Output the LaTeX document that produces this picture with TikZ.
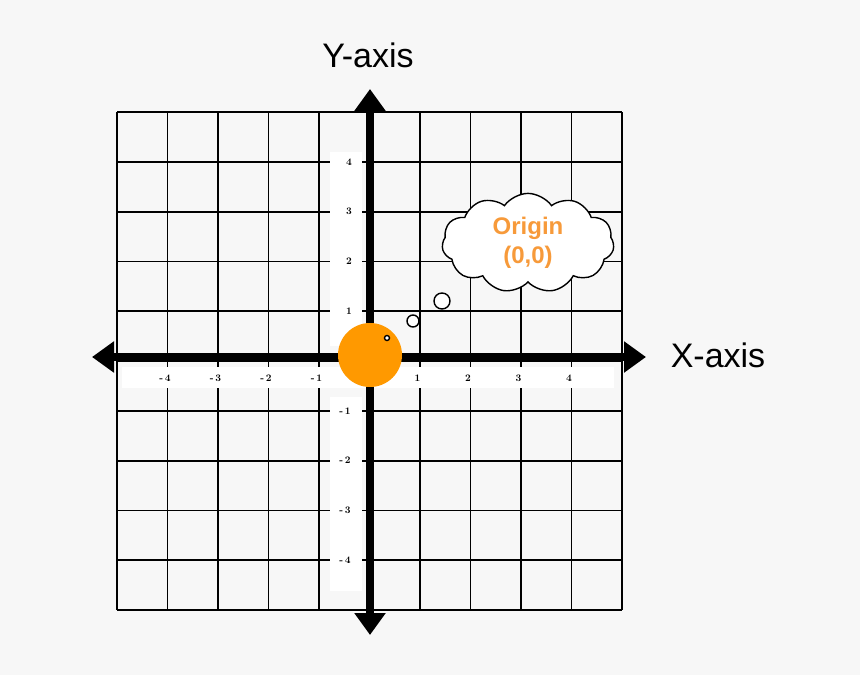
\documentclass[tikz,border=0pt]{standalone}
\usepackage{fontspec}
\setsansfont{Liberation Sans}
\usetikzlibrary{shapes.symbols,arrows.meta}
\definecolor{bg}{HTML}{F7F7F7}
\definecolor{org}{HTML}{FF9900}
\definecolor{txtorg}{HTML}{F79A3A}
\tikzset{grid line/.style={black,line width=1.8pt},
 axis/.style={line width=8pt,-{Triangle[length=22pt,width=30pt]}},
 tick/.style={font=\fontsize{10}{10}\selectfont\bfseries},
 bubble/.style={circle,draw,line width=1.4pt,fill=white,inner sep=0pt}}
\begin{document}
\begin{tikzpicture}[x=1pt,y=-1pt]
\fill[bg] (0,0) rectangle (860,675);
\useasboundingbox (0,0) rectangle (860,675);
\foreach \i in {0,...,10}{
  \draw[grid line] ({117+50.5*\i},112) -- ({117+50.5*\i},610);
  \draw[grid line] (117,{112+49.8*\i}) -- (622,{112+49.8*\i});}
\fill[white] (330,152) rectangle (362,346);
\fill[white] (330,397) rectangle (362,591);
\fill[white] (122,367) rectangle (614,388);
\foreach \i/\l in {1/4,2/3,3/2,4/1}{
  \node[tick] (yl\i) at (349,{112+49.8*\i}) {\l};}
\foreach \i/\l in {1/1,2/2,3/3,4/4}{
  \node[tick] (ym\i) at (345,{361+49.8*\i}) {-\,\l};}
\foreach \i/\l in {-4/-\,4,-3/-\,3,-2/-\,2,-1/-\,1,1/1,2/2,3/3,4/4}
  \node[tick] (xl\i) at ({370+50.5*\i-3},378) {\l};
\coordinate (L) at (92,357); \coordinate (R) at (646,357);
\coordinate (T) at (370,89); \coordinate (B) at (370,635);
\draw[axis] (370,357) -- (L);
\draw[axis] (370,357) -- (R);
\draw[axis] (370,357) -- (T);
\draw[axis] (370,357) -- (B);
\node[circle,fill=org,minimum size=64pt,inner sep=0pt] (o) at (370,355) {};
\node[bubble,minimum size=5pt] (b1) at (387,338) {};
\node[bubble,minimum size=12pt] (b2) at (413,321) {};
\node[bubble,minimum size=16pt] (b3) at (442,301) {};
\node[cloud,cloud puffs=11,cloud puff arc=110,aspect=1.7,draw,line width=1.4pt,fill=white,minimum width=172pt,minimum height=98pt,
  font=\sffamily\bfseries\fontsize{24}{29}\selectfont,text=txtorg,align=center] (c) at (528,243) {Origin\\(0,0)};
\node[font=\sffamily\fontsize{34}{34}\selectfont] (ya) at (368,55) {Y-axis};
\node[font=\sffamily\fontsize{34}{34}\selectfont] (xa) at (718,355) {X-axis};
\end{tikzpicture}
\end{document}
